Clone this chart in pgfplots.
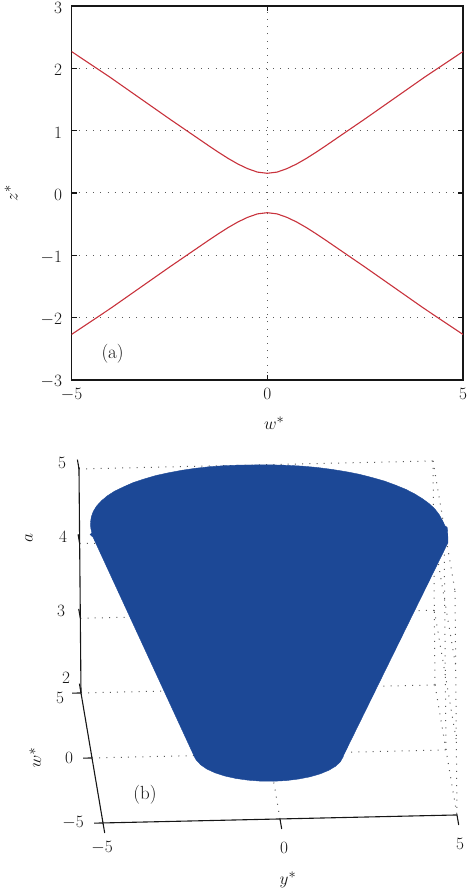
\documentclass[border=0pt]{standalone}
\usepackage{pgfplots}
\pgfplotsset{compat=1.18}
\definecolor{curvered}{HTML}{C8323C}
\definecolor{coneblue}{HTML}{1C4896}
\definecolor{inkk}{HTML}{161616}
\newcommand{\fs}{\fontsize{19}{22}\selectfont}
\tikzset{griddot/.style={line width=1pt,color=black!65,dash pattern=on 1pt off 6.2pt}}
\begin{document}
\begin{tikzpicture}[x=1pt,y=1pt]
\path[use as bounding box] (0,0) rectangle (474,890);
% panel (a)
\begin{axis}[
  at={(71.5pt,510pt)}, anchor=south west,
  scale only axis, width=391.5pt, height=374pt,
  xmin=-5, xmax=5, ymin=-3, ymax=3,
  xtick={-5,0,5}, ytick={-3,-2,-1,0,1,2,3},
  grid=major, major grid style={griddot},
  axis line style={line width=1.3pt,color=inkk},
  tick style={line width=1.2pt,color=inkk},
  major tick length=5pt,
  tick label style={font=\fs,color=inkk},
  xticklabel style={yshift=-5pt},
  yticklabel style={xshift=-6pt,yshift=-2pt},
  xlabel={$w^*$}, ylabel={$z^*$},
  label style={font=\fs,color=inkk},
  xlabel style={yshift=-9pt,xshift=7pt},
  ylabel style={yshift=16pt},
]
\addplot[curvered,line width=1.1pt] coordinates {
 (-5,2.27)(-4.5,2.06)(-4,1.85)(-3.5,1.63)(-3,1.41)(-2.5,1.19)(-2,0.975)(-1.5,0.76)(-1.25,0.655)(-1,0.555)(-0.75,0.465)(-0.5,0.39)(-0.25,0.335)(0,0.316)
 (0.25,0.335)(0.5,0.39)(0.75,0.465)(1,0.555)(1.25,0.655)(1.5,0.76)(2,0.975)(2.5,1.19)(3,1.41)(3.5,1.63)(4,1.85)(4.5,2.06)(5,2.27)};
\addplot[curvered,line width=1.1pt] coordinates {
 (-5,-2.27)(-4.5,-2.06)(-4,-1.85)(-3.5,-1.63)(-3,-1.41)(-2.5,-1.19)(-2,-0.975)(-1.5,-0.76)(-1.25,-0.655)(-1,-0.555)(-0.75,-0.465)(-0.5,-0.39)(-0.25,-0.335)(0,-0.316)
 (0.25,-0.335)(0.5,-0.39)(0.75,-0.465)(1,-0.555)(1.25,-0.655)(1.5,-0.76)(2,-0.975)(2.5,-1.19)(3,-1.41)(3.5,-1.63)(4,-1.85)(4.5,-2.06)(5,-2.27)};
\node[font=\fs,color=inkk] at (axis cs:-3.95,-2.58) {(a)};
\end{axis}
% panel (b)
\begin{axis}[
  at={(269pt,136.04pt)}, anchor=origin,
  x={(35.4pt,0.8pt)}, y={(-2.2pt,13pt)}, z={(-0.67pt,74.67pt)},
  disabledatascaling,
  xmin=-5, xmax=5, ymin=-5, ymax=5, zmin=2, zmax=5,
  hide axis, clip=false,
]
% back wall
\addplot3[griddot] coordinates {(-5,5,5)(5,5,5)};
\addplot3[griddot] coordinates {(-5,5,4)(5,5,4)};
\addplot3[griddot] coordinates {(-5,5,3)(5,5,3)};
\addplot3[griddot] coordinates {(-5,5,2)(5,5,2)};
\addplot3[griddot] coordinates {(0,5,2)(0,5,5)};
\addplot3[griddot] coordinates {(5,5,2)(5,5,5)};
% right wall
\addplot3[griddot] coordinates {(5,5,5)(5,-5,5)};
\addplot3[griddot] coordinates {(5,5,4)(5,-5,4)};
\addplot3[griddot] coordinates {(5,5,3)(5,-5,3)};
\addplot3[griddot] coordinates {(5,5,2)(5,-5,2)};
\addplot3[griddot] coordinates {(5,0,2)(5,0,5)};
\addplot3[griddot] coordinates {(5,-5,2)(5,-5,5)};
% floor
\addplot3[griddot] coordinates {(-5,0,2)(5,0,2)};
\addplot3[griddot] coordinates {(0,-5,2)(0,5,2)};
% cone outline: top ring then bottom ring
\addplot3[fill=coneblue,draw=coneblue,line width=0.4pt] coordinates {
 (-4.93,-0.25,5)(-5.0,-0.05,5)(-4.94,0.1,5)(-4.95,0.45,5)(-4.93,0.89,5)(-4.88,1.31,5)(-4.80,1.72,5)(-4.68,2.13,5)(-4.52,2.52,5)(-4.33,2.89,5)(-4.10,3.24,5)(-3.83,3.55,5)(-3.54,3.86,5)(-3.21,4.12,5)(-2.87,4.36,5)(-2.50,4.55,5)(-2.11,4.72,5)(-1.71,4.85,5)(-1.29,4.95,5)(-0.87,5.0,5)(-0.44,5.02,5)
 (0,5,5)(0.44,4.98,5)(0.87,4.92,5)(1.29,4.83,5)(1.71,4.70,5)(2.11,4.53,5)(2.50,4.33,5)(2.87,4.10,5)(3.21,3.83,5)(3.54,3.54,5)(3.83,3.21,5)(4.10,2.87,5)(4.33,2.50,5)(4.53,2.11,5)(4.70,1.71,5)(4.83,1.29,5)(4.92,0.87,5)(4.98,0.44,5)(5.03,0,5)(5.08,-0.1,5)(5.08,-0.4,5)(5.03,-1.3,5)
 (2.1,-0.2,2)(2.07,-0.36,2)(1.97,-0.72,2)(1.82,-1.05,2)(1.61,-1.35,2)(1.35,-1.61,2)(1.05,-1.82,2)(0.72,-1.97,2)(0.36,-2.07,2)(0,-2.1,2)
 (-0.36,-2.07,2)(-0.72,-1.97,2)(-1.05,-1.82,2)(-1.35,-1.61,2)(-1.61,-1.35,2)(-1.82,-1.05,2)(-1.97,-0.72,2)(-2.07,-0.36,2)(-2.1,-0.2,2)
} -- cycle;
% axes and ticks
\addplot3[inkk,line width=1.1pt] coordinates {(-5,5,5.02)(-5,5,2)(-5,-5,2)(5,-5,2)};
\addplot3[inkk,line width=1.1pt] coordinates {(-5,5,5)(-5,5.72,5)};
\addplot3[inkk,line width=1.1pt] coordinates {(-5,5,4)(-5,5.72,4)};
\addplot3[inkk,line width=1.1pt] coordinates {(-5,5,3)(-5,5.72,3)};
\addplot3[inkk,line width=1.1pt] coordinates {(-5,5,2)(-5,5.72,2)};
\addplot3[inkk,line width=1.1pt] coordinates {(-5,5,2)(-5.25,5,2)};
\addplot3[inkk,line width=1.1pt] coordinates {(-5,0,2)(-5.25,0,2)};
\addplot3[inkk,line width=1.1pt] coordinates {(-5,-5,2)(-5.25,-5,2)};
\addplot3[inkk,line width=1.1pt] coordinates {(-5,-5,2)(-5,-5.77,2)};
\addplot3[inkk,line width=1.1pt] coordinates {(0,-5,2)(0,-5.77,2)};
\addplot3[inkk,line width=1.1pt] coordinates {(5,-5,2)(5,-5.77,2)};
\end{axis}
\begin{scope}[every node/.style={font=\fs,color=inkk}]
\node at (62,427) {$5$};
\node at (63,353) {$4$};
\node at (61,279) {$3$};
\node at (66,212) {$2$};
\node at (60,192) {$5$};
\node at (69,132) {$0$};
\node at (73,67) {$-5$};
\node at (102,42) {$-5$};
\node at (284,42) {$0$};
\node at (460,46) {$5$};
\node[rotate=90] at (29,352) {$a$};
\node[rotate=83] at (35,132) {$w^*$};
\node at (288,10) {$y^*$};
\node at (145,95) {(b)};
\end{scope}
\end{tikzpicture}
\end{document}
